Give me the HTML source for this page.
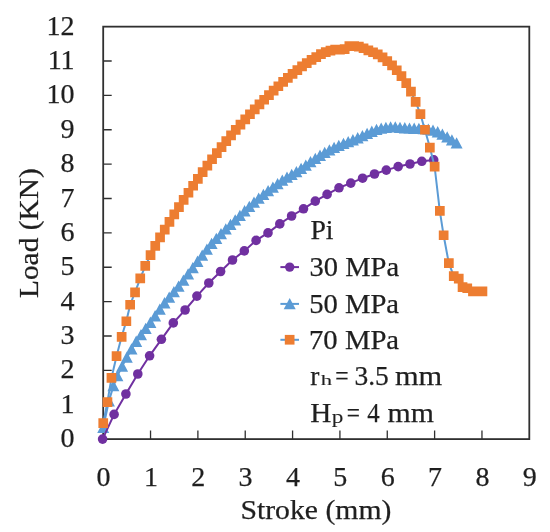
<!DOCTYPE html>
<html lang="en">
<head>
<meta charset="utf-8">
<title>Load vs Stroke</title>
<style>
html,body{margin:0;padding:0;background:#fff;}
body{width:550px;height:532px;overflow:hidden;font-family:"Liberation Serif",serif;}
svg{display:block;}
</style>
</head>
<body>
<svg width="550" height="532" viewBox="0 0 550 532">
<rect width="550" height="532" fill="#fff"/>
<rect x="103.20" y="26.65" width="426.10" height="412.45" fill="none" stroke="#303030" stroke-width="1.8"/>
<path d="M150.54 439.10v-8.5M197.89 439.10v-8.5M245.23 439.10v-8.5M292.58 439.10v-8.5M339.92 439.10v-8.5M387.27 439.10v-8.5M434.61 439.10v-8.5M481.96 439.10v-8.5M103.20 404.73h8.5M103.20 370.36h8.5M103.20 335.99h8.5M103.20 301.62h8.5M103.20 267.25h8.5M103.20 232.88h8.5M103.20 198.50h8.5M103.20 164.13h8.5M103.20 129.76h8.5M103.20 95.39h8.5M103.20 61.02h8.5" stroke="#303030" stroke-width="1.3" fill="none"/>
<polyline points="103.2,427.8 108.9,401.1 113.4,385.9 117.4,375.9 122.1,366.4 126.8,357.5 131.5,349.2 136.2,341.6 141.0,334.9 145.7,328.7 150.4,322.6 155.1,316.1 159.8,309.4 164.5,303.1 169.2,297.4 173.9,292.0 178.6,286.4 183.4,280.5 188.1,274.3 192.8,268.0 197.5,261.6 202.2,255.4 206.9,249.4 211.6,243.8 216.3,238.7 221.0,233.9 225.8,229.3 230.5,224.7 235.2,220.2 239.9,215.7 244.6,211.1 249.3,206.7 254.0,202.5 258.7,198.5 263.4,194.7 268.1,191.0 272.9,187.4 277.6,183.9 282.3,180.5 287.0,177.5 291.7,174.7 296.4,171.9 301.1,168.7 305.8,165.4 310.5,162.0 315.3,158.7 320.0,155.6 324.7,152.8 329.4,150.2 334.1,147.8 338.8,145.7 343.5,143.8 348.2,142.0 352.9,140.1 357.7,138.1 362.4,135.9 367.1,133.7 371.8,131.6 376.5,129.8 381.2,128.5 385.9,127.7 390.6,127.3 395.3,127.3 400.0,127.7 404.8,128.1 409.5,128.5 414.2,128.6 418.9,128.7 423.6,128.9 428.3,129.5 433.0,130.4 437.7,132.1 442.4,134.4 447.2,137.3 451.9,140.3 456.6,143.2" fill="none" stroke="#5B9BD5" stroke-width="2.0" stroke-linejoin="round"/>
<path d="M103.2 421.8l6.0 11.3h-12.0zM108.9 395.1l6.0 11.3h-12.0zM113.4 379.9l6.0 11.3h-12.0zM117.4 369.9l6.0 11.3h-12.0zM122.1 360.4l6.0 11.3h-12.0zM126.8 351.5l6.0 11.3h-12.0zM131.5 343.2l6.0 11.3h-12.0zM136.2 335.6l6.0 11.3h-12.0zM141.0 328.9l6.0 11.3h-12.0zM145.7 322.7l6.0 11.3h-12.0zM150.4 316.6l6.0 11.3h-12.0zM155.1 310.1l6.0 11.3h-12.0zM159.8 303.4l6.0 11.3h-12.0zM164.5 297.1l6.0 11.3h-12.0zM169.2 291.4l6.0 11.3h-12.0zM173.9 286.0l6.0 11.3h-12.0zM178.6 280.4l6.0 11.3h-12.0zM183.4 274.5l6.0 11.3h-12.0zM188.1 268.3l6.0 11.3h-12.0zM192.8 262.0l6.0 11.3h-12.0zM197.5 255.6l6.0 11.3h-12.0zM202.2 249.4l6.0 11.3h-12.0zM206.9 243.4l6.0 11.3h-12.0zM211.6 237.8l6.0 11.3h-12.0zM216.3 232.7l6.0 11.3h-12.0zM221.0 227.9l6.0 11.3h-12.0zM225.8 223.3l6.0 11.3h-12.0zM230.5 218.7l6.0 11.3h-12.0zM235.2 214.2l6.0 11.3h-12.0zM239.9 209.7l6.0 11.3h-12.0zM244.6 205.1l6.0 11.3h-12.0zM249.3 200.7l6.0 11.3h-12.0zM254.0 196.5l6.0 11.3h-12.0zM258.7 192.5l6.0 11.3h-12.0zM263.4 188.7l6.0 11.3h-12.0zM268.1 185.0l6.0 11.3h-12.0zM272.9 181.4l6.0 11.3h-12.0zM277.6 177.9l6.0 11.3h-12.0zM282.3 174.5l6.0 11.3h-12.0zM287.0 171.5l6.0 11.3h-12.0zM291.7 168.7l6.0 11.3h-12.0zM296.4 165.9l6.0 11.3h-12.0zM301.1 162.7l6.0 11.3h-12.0zM305.8 159.4l6.0 11.3h-12.0zM310.5 156.0l6.0 11.3h-12.0zM315.3 152.7l6.0 11.3h-12.0zM320.0 149.6l6.0 11.3h-12.0zM324.7 146.8l6.0 11.3h-12.0zM329.4 144.2l6.0 11.3h-12.0zM334.1 141.8l6.0 11.3h-12.0zM338.8 139.7l6.0 11.3h-12.0zM343.5 137.8l6.0 11.3h-12.0zM348.2 136.0l6.0 11.3h-12.0zM352.9 134.1l6.0 11.3h-12.0zM357.7 132.1l6.0 11.3h-12.0zM362.4 129.9l6.0 11.3h-12.0zM367.1 127.7l6.0 11.3h-12.0zM371.8 125.6l6.0 11.3h-12.0zM376.5 123.8l6.0 11.3h-12.0zM381.2 122.5l6.0 11.3h-12.0zM385.9 121.7l6.0 11.3h-12.0zM390.6 121.3l6.0 11.3h-12.0zM395.3 121.3l6.0 11.3h-12.0zM400.0 121.7l6.0 11.3h-12.0zM404.8 122.1l6.0 11.3h-12.0zM409.5 122.5l6.0 11.3h-12.0zM414.2 122.6l6.0 11.3h-12.0zM418.9 122.7l6.0 11.3h-12.0zM423.6 122.9l6.0 11.3h-12.0zM428.3 123.5l6.0 11.3h-12.0zM433.0 124.4l6.0 11.3h-12.0zM437.7 126.1l6.0 11.3h-12.0zM442.4 128.4l6.0 11.3h-12.0zM447.2 131.3l6.0 11.3h-12.0zM451.9 134.3l6.0 11.3h-12.0zM456.6 137.2l6.0 11.3h-12.0z" fill="#5B9BD5"/>
<polyline points="102.6,439.1 114.1,414.4 125.9,394.0 137.8,374.0 149.6,355.8 161.4,339.3 173.3,322.9 185.1,310.0 196.9,296.1 208.8,283.0 220.6,271.5 232.5,260.0 244.3,250.9 256.1,240.4 268.0,232.9 279.8,223.9 291.6,216.0 303.5,208.8 315.3,201.1 327.1,194.4 339.0,187.8 350.8,183.1 362.6,178.2 374.5,174.0 386.3,170.1 398.2,166.6 410.0,164.0 421.8,161.3 433.7,159.9" fill="none" stroke="#7030A0" stroke-width="2.0" stroke-linejoin="round"/>
<g fill="#7030A0">
<circle cx="102.6" cy="439.1" r="4.8"/>
<circle cx="114.1" cy="414.4" r="4.8"/>
<circle cx="125.9" cy="394.0" r="4.8"/>
<circle cx="137.8" cy="374.0" r="4.8"/>
<circle cx="149.6" cy="355.8" r="4.8"/>
<circle cx="161.4" cy="339.3" r="4.8"/>
<circle cx="173.3" cy="322.9" r="4.8"/>
<circle cx="185.1" cy="310.0" r="4.8"/>
<circle cx="196.9" cy="296.1" r="4.8"/>
<circle cx="208.8" cy="283.0" r="4.8"/>
<circle cx="220.6" cy="271.5" r="4.8"/>
<circle cx="232.5" cy="260.0" r="4.8"/>
<circle cx="244.3" cy="250.9" r="4.8"/>
<circle cx="256.1" cy="240.4" r="4.8"/>
<circle cx="268.0" cy="232.9" r="4.8"/>
<circle cx="279.8" cy="223.9" r="4.8"/>
<circle cx="291.6" cy="216.0" r="4.8"/>
<circle cx="303.5" cy="208.8" r="4.8"/>
<circle cx="315.3" cy="201.1" r="4.8"/>
<circle cx="327.1" cy="194.4" r="4.8"/>
<circle cx="339.0" cy="187.8" r="4.8"/>
<circle cx="350.8" cy="183.1" r="4.8"/>
<circle cx="362.6" cy="178.2" r="4.8"/>
<circle cx="374.5" cy="174.0" r="4.8"/>
<circle cx="386.3" cy="170.1" r="4.8"/>
<circle cx="398.2" cy="166.6" r="4.8"/>
<circle cx="410.0" cy="164.0" r="4.8"/>
<circle cx="421.8" cy="161.3" r="4.8"/>
<circle cx="433.7" cy="159.9" r="4.8"/>
</g>
<polyline points="103.2,423.2 107.4,402.2 111.5,377.8 116.6,356.1 121.6,336.8 126.3,321.2 130.2,304.7 135.0,292.3 140.3,278.4 145.3,265.9 150.5,255.2 155.3,246.0 160.0,237.5 164.7,229.5 169.5,221.9 174.2,214.5 179.0,207.1 183.7,199.9 188.4,192.8 193.2,185.7 197.9,178.9 202.6,172.1 207.4,165.6 212.1,159.2 216.8,153.0 221.6,147.0 226.3,141.2 231.0,135.5 235.8,130.0 240.5,124.6 245.2,119.4 250.0,114.3 254.7,109.3 259.4,104.5 264.2,99.8 268.9,95.2 273.6,90.6 278.4,86.2 283.1,82.0 287.8,77.8 292.6,73.8 297.3,70.0 302.0,66.4 306.8,63.1 311.5,59.9 316.3,57.1 321.0,54.1 325.7,52.1 330.5,50.5 335.2,49.7 339.9,49.5 344.7,49.2 349.4,46.2 354.1,46.2 358.9,46.6 363.6,48.2 368.3,50.4 373.1,52.3 377.8,54.3 382.5,57.4 387.3,61.1 392.0,65.4 396.7,70.3 401.5,76.1 406.2,83.0 410.9,91.5 415.7,101.8 420.4,114.2 424.9,129.8 429.9,147.6 434.6,166.5 439.8,210.9 443.6,235.3 448.8,263.1 453.8,276.2 458.8,278.6 462.5,287.0 467.3,288.2 473.0,291.3 477.7,291.5 482.4,291.5" fill="none" stroke="#5B9BD5" stroke-width="2.0" stroke-linejoin="round"/>
<path d="M98.4 418.3h9.7v9.7h-9.7zM102.6 397.3h9.7v9.7h-9.7zM106.6 373.0h9.7v9.7h-9.7zM111.7 351.2h9.7v9.7h-9.7zM116.8 332.0h9.7v9.7h-9.7zM121.5 316.4h9.7v9.7h-9.7zM125.3 299.9h9.7v9.7h-9.7zM130.2 287.5h9.7v9.7h-9.7zM135.4 273.6h9.7v9.7h-9.7zM140.4 261.0h9.7v9.7h-9.7zM145.7 250.3h9.7v9.7h-9.7zM150.4 241.1h9.7v9.7h-9.7zM155.2 232.6h9.7v9.7h-9.7zM159.9 224.7h9.7v9.7h-9.7zM164.6 217.0h9.7v9.7h-9.7zM169.4 209.6h9.7v9.7h-9.7zM174.1 202.3h9.7v9.7h-9.7zM178.8 195.0h9.7v9.7h-9.7zM183.6 187.9h9.7v9.7h-9.7zM188.3 180.9h9.7v9.7h-9.7zM193.0 174.0h9.7v9.7h-9.7zM197.8 167.3h9.7v9.7h-9.7zM202.5 160.7h9.7v9.7h-9.7zM207.2 154.4h9.7v9.7h-9.7zM212.0 148.2h9.7v9.7h-9.7zM216.7 142.2h9.7v9.7h-9.7zM221.4 136.3h9.7v9.7h-9.7zM226.2 130.6h9.7v9.7h-9.7zM230.9 125.1h9.7v9.7h-9.7zM235.6 119.7h9.7v9.7h-9.7zM240.4 114.5h9.7v9.7h-9.7zM245.1 109.4h9.7v9.7h-9.7zM249.9 104.5h9.7v9.7h-9.7zM254.6 99.6h9.7v9.7h-9.7zM259.3 94.9h9.7v9.7h-9.7zM264.1 90.3h9.7v9.7h-9.7zM268.8 85.8h9.7v9.7h-9.7zM273.5 81.4h9.7v9.7h-9.7zM278.3 77.1h9.7v9.7h-9.7zM283.0 73.0h9.7v9.7h-9.7zM287.7 69.0h9.7v9.7h-9.7zM292.5 65.2h9.7v9.7h-9.7zM297.2 61.6h9.7v9.7h-9.7zM301.9 58.2h9.7v9.7h-9.7zM306.7 55.1h9.7v9.7h-9.7zM311.4 52.2h9.7v9.7h-9.7zM316.1 49.3h9.7v9.7h-9.7zM320.9 47.2h9.7v9.7h-9.7zM325.6 45.7h9.7v9.7h-9.7zM330.3 44.8h9.7v9.7h-9.7zM335.1 44.7h9.7v9.7h-9.7zM339.8 44.3h9.7v9.7h-9.7zM344.5 41.3h9.7v9.7h-9.7zM349.3 41.3h9.7v9.7h-9.7zM354.0 41.7h9.7v9.7h-9.7zM358.7 43.4h9.7v9.7h-9.7zM363.5 45.5h9.7v9.7h-9.7zM368.2 47.4h9.7v9.7h-9.7zM372.9 49.5h9.7v9.7h-9.7zM377.7 52.6h9.7v9.7h-9.7zM382.4 56.2h9.7v9.7h-9.7zM387.2 60.5h9.7v9.7h-9.7zM391.9 65.4h9.7v9.7h-9.7zM396.6 71.2h9.7v9.7h-9.7zM401.4 78.2h9.7v9.7h-9.7zM406.1 86.7h9.7v9.7h-9.7zM410.8 97.0h9.7v9.7h-9.7zM415.6 109.3h9.7v9.7h-9.7zM420.1 124.9h9.7v9.7h-9.7zM425.0 142.8h9.7v9.7h-9.7zM429.8 161.7h9.7v9.7h-9.7zM435.0 206.0h9.7v9.7h-9.7zM438.8 230.4h9.7v9.7h-9.7zM444.0 258.3h9.7v9.7h-9.7zM448.9 271.3h9.7v9.7h-9.7zM453.9 273.7h9.7v9.7h-9.7zM457.7 282.2h9.7v9.7h-9.7zM462.4 283.4h9.7v9.7h-9.7zM468.1 286.5h9.7v9.7h-9.7zM472.8 286.6h9.7v9.7h-9.7zM477.6 286.6h9.7v9.7h-9.7z" fill="#ED7D31"/>
<path d="M280.4 267.1H299.0" stroke="#7030A0" stroke-width="2" fill="none"/>
<path d="M280.4 303.9H299.0" stroke="#5B9BD5" stroke-width="2" fill="none"/>
<path d="M280.4 339.8H299.0" stroke="#5B9BD5" stroke-width="2" fill="none"/>
<circle cx="289.7" cy="267.1" r="4.7" fill="#7030A0"/>
<path d="M289.7 297.9l6.0 11.3h-12.0z" fill="#5B9BD5"/>
<rect x="284.8" y="334.9" width="9.7" height="9.7" fill="#ED7D31"/>
<g font-family="'Liberation Serif', serif" fill="#1f1f1f" stroke="#1f1f1f" stroke-width="0.25">
<text x="74.6" y="447.1" font-size="28" text-anchor="end">0</text>
<text x="74.6" y="412.7" font-size="28" text-anchor="end">1</text>
<text x="74.6" y="378.4" font-size="28" text-anchor="end">2</text>
<text x="74.6" y="344.0" font-size="28" text-anchor="end">3</text>
<text x="74.6" y="309.6" font-size="28" text-anchor="end">4</text>
<text x="74.6" y="275.2" font-size="28" text-anchor="end">5</text>
<text x="74.6" y="240.9" font-size="28" text-anchor="end">6</text>
<text x="74.6" y="206.5" font-size="28" text-anchor="end">7</text>
<text x="74.6" y="172.1" font-size="28" text-anchor="end">8</text>
<text x="74.6" y="137.8" font-size="28" text-anchor="end">9</text>
<text x="74.6" y="103.4" font-size="28" text-anchor="end">10</text>
<text x="74.6" y="69.0" font-size="28" text-anchor="end">11</text>
<text x="74.6" y="34.6" font-size="28" text-anchor="end">12</text>
<text x="103.6" y="486.0" font-size="28" text-anchor="middle">0</text>
<text x="150.9" y="486.0" font-size="28" text-anchor="middle">1</text>
<text x="198.3" y="486.0" font-size="28" text-anchor="middle">2</text>
<text x="245.6" y="486.0" font-size="28" text-anchor="middle">3</text>
<text x="293.0" y="486.0" font-size="28" text-anchor="middle">4</text>
<text x="340.3" y="486.0" font-size="28" text-anchor="middle">5</text>
<text x="387.7" y="486.0" font-size="28" text-anchor="middle">6</text>
<text x="435.0" y="486.0" font-size="28" text-anchor="middle">7</text>
<text x="482.4" y="486.0" font-size="28" text-anchor="middle">8</text>
<text x="529.7" y="486.0" font-size="28" text-anchor="middle">9</text>
<text x="240.41" y="518.7" font-size="28" textLength="150.99" lengthAdjust="spacingAndGlyphs">Stroke (mm)</text>
<text transform="translate(37.6 297.4) rotate(-90)" x="-0.63" y="0" font-size="28" textLength="129.76" lengthAdjust="spacingAndGlyphs">Load (KN)</text>
<text x="310.38" y="239.4" font-size="28" textLength="23.08" lengthAdjust="spacingAndGlyphs">Pi</text>
<text x="309.56" y="276.1" font-size="28" textLength="89.56" lengthAdjust="spacingAndGlyphs">30 MPa</text>
<text x="309.15" y="312.5" font-size="28" textLength="89.92" lengthAdjust="spacingAndGlyphs">50 MPa</text>
<text x="309.03" y="348.9" font-size="28" textLength="90.09" lengthAdjust="spacingAndGlyphs">70 MPa</text>
<text x="310.35" y="385.2" font-size="28" textLength="9.12" lengthAdjust="spacingAndGlyphs">r</text>
<text x="320.65" y="385.2" font-size="14" stroke-width="0.1" textLength="11.32" lengthAdjust="spacingAndGlyphs">h</text>
<text x="335.2" y="385.2" font-size="28" textLength="13.35" lengthAdjust="spacingAndGlyphs">=</text>
<text x="354.49" y="385.2" font-size="28" textLength="34.3" lengthAdjust="spacingAndGlyphs">3.5</text>
<text x="394.96" y="385.2" font-size="28" textLength="47.31" lengthAdjust="spacingAndGlyphs">mm</text>
<text x="310.18" y="421.5" font-size="28" textLength="21.13" lengthAdjust="spacingAndGlyphs">H</text>
<text x="331.78" y="423.2" font-size="19" stroke-width="0.1" textLength="11.58" lengthAdjust="spacingAndGlyphs">p</text>
<text x="346.68" y="421.5" font-size="28" textLength="13.19" lengthAdjust="spacingAndGlyphs">=</text>
<text x="367.36" y="421.5" font-size="28" textLength="12.39" lengthAdjust="spacingAndGlyphs">4</text>
<text x="387.59" y="421.5" font-size="28" textLength="46.36" lengthAdjust="spacingAndGlyphs">mm</text>
</g>
</svg>
</body>
</html>
